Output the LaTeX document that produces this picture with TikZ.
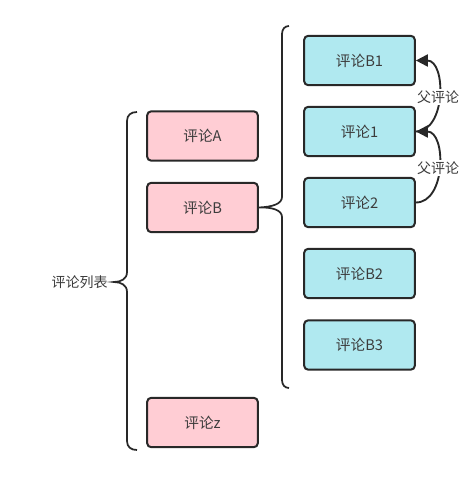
\documentclass[tikz,border=0pt]{standalone}
\usepackage{fontspec}
\setmainfont{Noto Sans CJK SC}
\usetikzlibrary{arrows.meta}
\definecolor{pinkfill}{RGB}{255,205,212}
\definecolor{cyanfill}{RGB}{176,233,240}
\definecolor{edgecol}{RGB}{40,40,40}
\definecolor{txtcol}{RGB}{60,60,60}
\tikzset{
  pinkbox/.style={draw=edgecol, line width=1.5pt, rounded corners=3pt, fill=pinkfill,
    minimum width=83pt, minimum height=37pt, inner sep=0pt, text=txtcol,
    font=\fontsize{11}{13}\selectfont},
  cyanbox/.style={pinkbox, fill=cyanfill},
  bracecurve/.style={draw=edgecol, line width=1.3pt},
  parentarrow/.style={draw=edgecol, line width=1.4pt, -{Triangle[length=9pt,width=9pt]}},
  lbl/.style={text=txtcol, font=\fontsize{10.5}{12}\selectfont, fill=white, inner sep=1pt}
}
\begin{document}
\begin{tikzpicture}[x=0.75pt,y=-0.75pt]
\useasboundingbox (0,0) rectangle (474,478);
% left column
\node[pinkbox] (A) at (202.5,136) {评论A};
\node[pinkbox] (B) at (202.5,207.5) {评论B};
\node[pinkbox] (Z) at (202.5,422.5) {评论z};
% right column
\node[cyanbox] (B1) at (359.5,60.5) {评论B1};
\node[cyanbox] (C1) at (359.5,131.5) {评论1};
\node[cyanbox] (C2) at (359.5,202.5) {评论2};
\node[cyanbox] (B2) at (359.5,273.5) {评论B2};
\node[cyanbox] (B3) at (359.5,345) {评论B3};
% label of list
\node[text=txtcol, font=\fontsize{10.5}{12}\selectfont, anchor=east, inner sep=0pt] (L) at (108,282) {评论列表};
% left brace
\coordinate (ltip) at (114,282);
\path[bracecurve] (137,112) .. controls (131,112) and (127,115) .. (127,121)
  -- (127,272) .. controls (127,279) and (121,282) .. (ltip)
  .. controls (121,282) and (127,285) .. (127,292)
  -- (127,441) .. controls (127,447) and (131,450) .. (137,450);
% right brace
\coordinate (rtip) at (B.east);
\path[bracecurve] (289,26) .. controls (285,26) and (282,29) .. (282,34)
  -- (282,197) .. controls (282,204) and (272,207) .. (rtip)
  .. controls (272,207) and (282,210) .. (282,217)
  -- (282,380) .. controls (282,385) and (285,388) .. (289,388);
% parent arrows
\draw[parentarrow] (C1.east) to[out=0,in=0,looseness=1.1] (B1.east);
\draw[parentarrow] (C2.east) to[out=0,in=0,looseness=1.1] (C1.east);
\node[lbl] (p1) at (438,97) {父评论};
\node[lbl] (p2) at (438,168) {父评论};
\end{tikzpicture}
\end{document}
